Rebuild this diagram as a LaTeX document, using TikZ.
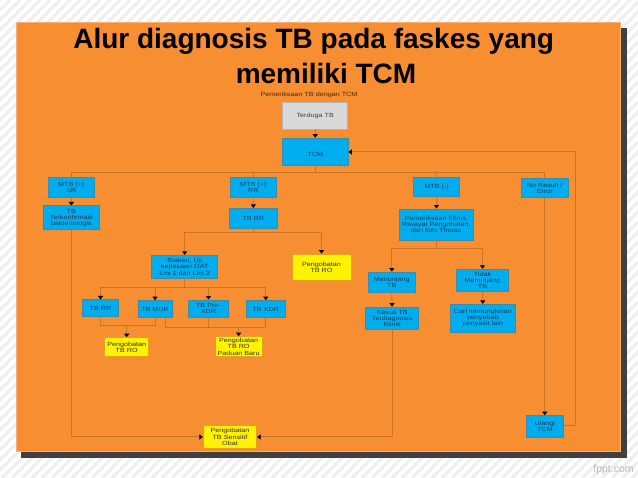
\documentclass[tikz,border=0pt]{standalone}
\usepackage{fontspec}
\setmainfont{Liberation Sans}
\newfontfamily\boxfont[FakeStretch=1.2]{Liberation Sans}
\usetikzlibrary{arrows.meta,calc}
\definecolor{slideorange}{HTML}{F78E32}
\definecolor{shadowgrey}{HTML}{404040}
\definecolor{stripegrey}{HTML}{EFEFEF}
\definecolor{cyanfill}{HTML}{00AEEF}
\definecolor{cyanedge}{HTML}{3A8CA8}
\definecolor{yellowedge}{HTML}{DDA520}
\definecolor{wire}{HTML}{CC7426}
\definecolor{boxtext}{HTML}{12405E}
\tikzset{
  x=1pt,y=-1pt,
  base/.style={inner sep=0pt,align=center,line width=0.9pt,
    font=\fontsize{6}{6.2}\selectfont\boxfont},
  bluebox/.style={base,fill=cyanfill,draw=cyanedge,text=boxtext},
  yellowbox/.style={base,fill=yellow,draw=yellowedge,text=black!80},
  greybox/.style={base,fill=black!15,draw=black!30,text=black!75},
  wirepath/.style={draw=wire,line width=1pt},
  arrowpath/.style={wirepath,-{Triangle[black,width=5pt,length=3.5pt]}},
  titletext/.style={inner sep=0pt,anchor=base,font=\fontsize{28}{30}\selectfont\bfseries,text=black},
}
\begin{document}
\begin{tikzpicture}
\useasboundingbox (0,0) rectangle (638,478);
% striped page background
\fill[white] (0,0) rectangle (638,478);
\begin{scope}
\clip (0,0) rectangle (638,478);
\foreach \s in {-10,0,...,1130}{
  \draw[stripegrey,line width=3pt] (\s,0) -- (\s-478,478);
}
\end{scope}
% slide panel
\fill[shadowgrey] (21,28) rectangle (627,458);
\filldraw[slideorange,draw=slideorange!70!white,line width=0.5pt] (16,22) rectangle (620,451);
% title
\node[titletext] (t1) at (313.7,49) {Alur diagnosis TB pada faskes yang};
\node[titletext] (t2) at (326,83.5) {memiliki TCM};
\node[base,text=black!70!slideorange] (head) at (309,95) {Pemeriksaan TB dengan TCM};
% boxes
\node[greybox,minimum width=65pt,minimum height=27pt] (terduga) at (315.2,115.5) {Terduga TB};
\node[bluebox,minimum width=65.5pt,minimum height=27.7pt] (tcm) at (315.2,152) {\raisebox{-4.5pt}[0pt][0pt]{TCM}};
\node[bluebox,minimum width=46pt,minimum height=19.3pt] (mtbsr) at (71.3,187.6) {MTB (+)\\SR};
\node[bluebox,minimum width=46pt,minimum height=19.7pt] (mtbrr) at (253.3,187.2) {MTB (+)\\RR};
\node[bluebox,minimum width=46pt,minimum height=19.3pt] (mtbneg) at (436.7,187.3) {MTB (-)};
\node[bluebox,minimum width=46.3pt,minimum height=19.4pt] (noresult) at (544.8,188) {No Result /\\Error};
\node[bluebox,minimum width=56.7pt,minimum height=23.7pt] (terkonf) at (71.3,217.8) {TB\\Terkonfirmasi\\bakteriologis};
\node[bluebox,minimum width=48pt,minimum height=19.7pt] (tbrr) at (253.3,218.2) {TB RR};
\node[bluebox,minimum width=74pt,minimum height=31pt] (klinis) at (436.3,224.5) {Pemeriksaan Klinis,\\Riwayat Pengobatan,\\dan foto Thorax};
\node[bluebox,minimum width=66pt,minimum height=23pt] (biakan) at (184.7,266.8) {Biakan, Uji\\kepekaan OAT\\Lini 1 dan Lini 2};
\node[yellowbox,minimum width=59pt,minimum height=26pt] (roa) at (321.5,267) {Pengobatan\\TB RO};
\node[bluebox,minimum width=47.7pt,minimum height=20pt] (menunjang) at (391.8,282) {Menunjang\\TB};
\node[bluebox,minimum width=52.4pt,minimum height=22pt] (tidak) at (482.5,280.3) {Tidak\\Menunjang\\TB};
\node[bluebox,minimum width=35.6pt,minimum height=16.7pt] (rr) at (100.5,308.3) {TB RR};
\node[bluebox,minimum width=34.3pt,minimum height=17pt] (mdr) at (155.1,309.2) {TB MDR};
\node[bluebox,minimum width=39.6pt,minimum height=17.3pt] (pre) at (208.5,308.7) {TB Pre-\\XDR};
\node[bluebox,minimum width=39.7pt,minimum height=17.3pt] (xdr) at (265.8,309.3) {TB XDR};
\node[bluebox,minimum width=53pt,minimum height=22.3pt] (kasus) at (392.2,318.2) {Kasus TB\\Terdiagnosis\\Klinis};
\node[bluebox,minimum width=65.4pt,minimum height=27.7pt] (cari) at (483,318.2) {Cari kemungkinan\\penyebab\\penyakit lain};
\node[yellowbox,minimum width=44pt,minimum height=19.3pt] (rob) at (126.7,347.3) {Pengobatan\\TB RO};
\node[yellowbox,minimum width=47.3pt,minimum height=20.3pt] (paduan) at (238.6,346.8) {Pengobatan\\TB RO\\Paduan Baru};
\node[bluebox,minimum width=36.5pt,minimum height=21.6pt] (ulangi) at (544.8,426.5) {Ulangi\\TCM};
\node[yellowbox,minimum width=53.3pt,minimum height=22.6pt] (sensitif) at (230,437) {Pengobatan\\TB Sensitif\\Obat};
% connector way-points
\coordinate (busa) at (0,172.3);
\coordinate (busb) at (0,232.7);
\coordinate (busc) at (0,287.3);
\coordinate (busd) at (0,248.3);
\coordinate (buse) at (0,325.3);
\coordinate (busf) at (0,328);
\coordinate (loopx) at (575.7,0);
\coordinate (mdrtap) at (165.7,0);
% connectors
\draw[arrowpath] (terduga) -- (tcm);
\draw[wirepath] (tcm.south) -- (tcm.south |- busa);
\draw[wirepath] (mtbsr.north) -- (mtbsr.north |- busa) -- (noresult.north |- busa) -- (noresult.north);
\draw[wirepath] (mtbrr.north) -- (mtbrr.north |- busa);
\draw[wirepath] (mtbneg.north) -- (mtbneg.north |- busa);
\draw[arrowpath] (mtbsr) -- (terkonf);
\draw[arrowpath] (mtbrr) -- (tbrr);
\draw[arrowpath] (mtbneg) -- (klinis);
\draw[arrowpath] (noresult) -- (ulangi);
\draw[arrowpath] (terkonf.south) |- (sensitif.west);
\draw[arrowpath] (kasus.south) |- (sensitif.east);
\draw[arrowpath] (ulangi.east |- 0,426) -- (loopx |- 0,426) -- (loopx |- tcm.east) -- (tcm.east);
% TB RR split
\draw[wirepath] (tbrr.south) -- (tbrr.south |- busb);
\draw[arrowpath] (tbrr.south |- busb) -| (biakan.north);
\draw[arrowpath] (tbrr.south |- busb) -| (roa.north);
% culture split
\draw[wirepath] (biakan.south) -- (biakan.south |- busc);
\draw[arrowpath] (biakan.south |- busc) -| (rr.north);
\draw[arrowpath] (biakan.south |- busc) -| (mdr.north);
\draw[arrowpath] (biakan.south |- busc) -| (pre.north);
\draw[arrowpath] (biakan.south |- busc) -| (xdr.north);
% results to treatment
\draw[wirepath] (rr.south) -- (rr.south |- buse) -- (mdr.south |- buse) -- (mdr.south);
\draw[arrowpath] (rob.north |- buse) -- (rob.north);
\draw[wirepath] (mdrtap |- mdr.south) -- (mdrtap |- busf) -- (xdr.south |- busf) -- (xdr.south);
\draw[wirepath] (pre.south) -- (pre.south |- busf);
\draw[arrowpath] (paduan.north |- busf) -- (paduan.north);
% negative branch
\draw[wirepath] (klinis.south) -- (klinis.south |- busd);
\draw[arrowpath] (klinis.south |- busd) -| (menunjang.north);
\draw[arrowpath] (klinis.south |- busd) -| (tidak.north);
\draw[arrowpath] (menunjang) -- (kasus);
\draw[arrowpath] (tidak) -- (cari);
% watermark
\node[inner sep=0pt,font=\fontsize{10.5}{12}\selectfont,text=black!28] (wm) at (613.5,470) {fppt.com};
\end{tikzpicture}
\end{document}
